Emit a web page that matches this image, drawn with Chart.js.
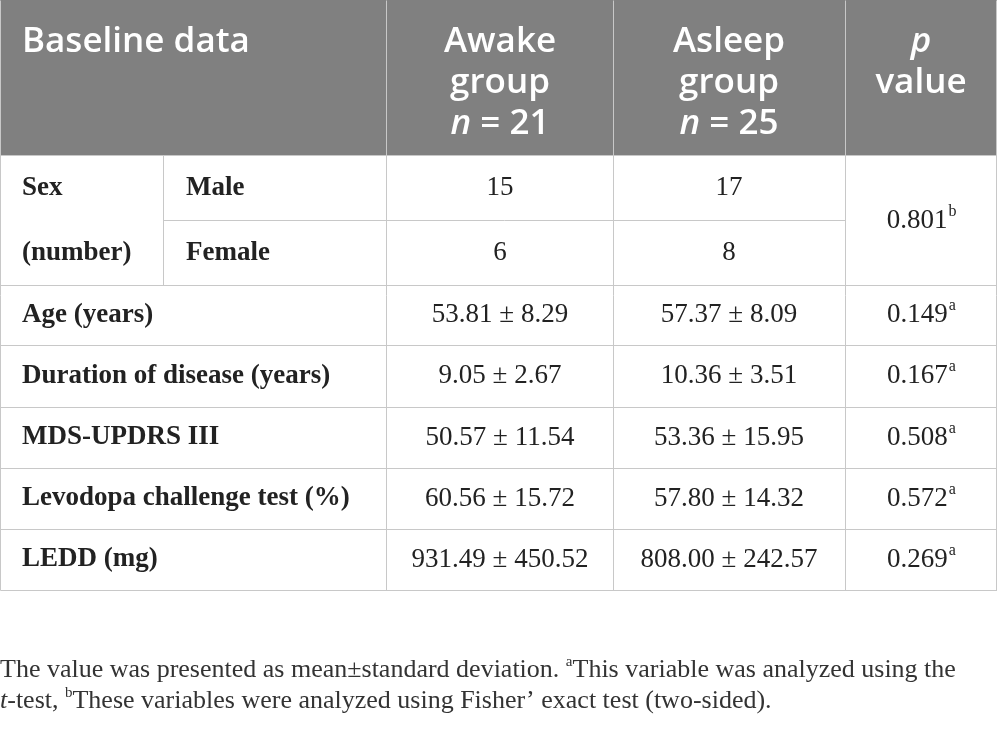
<!DOCTYPE html>
<html><head><meta charset="utf-8">
<script src="https://cdn.jsdelivr.net/npm/chart.js@4"></script>
<style>html,body{margin:0;padding:0;background:#fff}</style>
</head><body>
<canvas id="c" width="997" height="730"></canvas>
<script>
const headers = [["Baseline data"], ["Awake", "group", "n = 21"], ["Asleep", "group", "n = 25"], ["p", "value"]];
const rowLabels = ["Age (years)", "Duration of disease (years)", "MDS-UPDRS III", "Levodopa challenge test (%)", "LEDD (mg)"];
const awakeValues = ["53.81 ± 8.29", "9.05 ± 2.67", "50.57 ± 11.54", "60.56 ± 15.72", "931.49 ± 450.52"];
const asleepValues = ["57.37 ± 8.09", "10.36 ± 3.51", "53.36 ± 15.95", "57.80 ± 14.32", "808.00 ± 242.57"];
const pValues = ["0.149", "0.167", "0.508", "0.572", "0.269"];
const pMarks = ["a", "a", "a", "a", "a"];
const sexCategories = ["Male", "Female"];
const sexAwake = [15, 6];
const sexAsleep = [17, 8];
const sexP = "0.801", sexPMark = "b";

const X = [0, 163, 386, 613, 845, 997];
const rowY = [285, 345, 407, 468, 529, 590];
const serif = '"Liberation Serif", serif';
const HF = '600 35px "Open Sans", sans-serif', HFI = 'italic 600 35px "Open Sans", sans-serif';

const tablePlugin = {
  id: 'table',
  afterDraw(chart) {
    const c = chart.ctx;
    c.save();
    c.fillStyle = '#fff'; c.fillRect(0,0,997,730);
    c.fillStyle = '#808080'; c.fillRect(0,0,997,155);
    c.strokeStyle = '#c8c8c8'; c.lineWidth = 1;
    const line = (x1,y1,x2,y2)=>{c.beginPath();c.moveTo(x1+.5,y1+.5);c.lineTo(x2+.5,y2+.5);c.stroke();};
    line(0,155,997,155);
    line(163,220,845,220);
    rowY.forEach(y=>line(0,y,997,y));
    line(996,0,996,590); line(0,0,0,590);
    [386,613,845].forEach(x=>line(x,0,x,590));
    line(163,155,163,285);
    c.fillStyle = '#fff'; c.textBaseline = 'middle';
    c.font = HF;
    c.textAlign = 'left'; c.fillText(headers[0][0], 22, 42);
    c.textAlign = 'center';
    const hx = [null, 500, 729, 921];
    for (let i=1;i<4;i++) headers[i].forEach((t,j)=>{
      const y = 42 + j*41;
      if (t==='p') { c.font=HFI; c.fillText('p', hx[i], y); }
      else if (t.startsWith('n =')) {
        const rest = ' = ' + t.slice(4);
        c.font=HF; const wr = c.measureText(rest).width;
        c.font=HFI; const wn = c.measureText('n').width;
        const x0 = hx[i] - (wr+wn)/2;
        c.textAlign='left'; c.fillText('n', x0, y);
        c.font=HF; c.fillText(rest, x0+wn, y);
        c.textAlign='center';
      } else { c.font=HF; c.fillText(t, hx[i], y); }
    });
    c.fillStyle = '#222';
    const sup = (txt, mark, cx, y) => {
      c.font = '27px '+serif; const w = c.measureText(txt).width;
      c.font = '16px '+serif; const wm = c.measureText(mark).width;
      const x0 = cx - (w+wm)/2; c.textAlign='left';
      c.font = '27px '+serif; c.fillText(txt, x0, y);
      c.font = '16px '+serif; c.fillText(mark, x0+w+1, y-9);
      c.textAlign='center';
    };
    c.font = 'bold 27px '+serif; c.textAlign='left';
    c.fillText('Sex', 22, 188); c.fillText('(number)', 22, 253);
    sexCategories.forEach((s,i)=>c.fillText(s, 186, 188+i*65));
    c.textAlign='center'; c.font='27px '+serif;
    sexAwake.forEach((v,i)=>c.fillText(String(v), 500, 188+i*65));
    sexAsleep.forEach((v,i)=>c.fillText(String(v), 729, 188+i*65));
    sup(sexP, sexPMark, 921, 221);
    rowLabels.forEach((l,i)=>{
      const y = (rowY[i]+rowY[i+1])/2;
      c.font='bold 27px '+serif; c.textAlign='left'; c.fillText(l, 22, y);
      c.textAlign='center'; c.font='27px '+serif;
      c.fillText(awakeValues[i], 500, y); c.fillText(asleepValues[i], 729, y);
      sup(pValues[i], pMarks[i], 921, y);
    });
    c.fillStyle='#333'; c.textAlign='left';
    const FN='26px '+serif, FS='15px '+serif;
    c.font=FN;
    let s1='The value was presented as mean±standard deviation. ';
    c.fillText(s1, 0, 670); let x=c.measureText(s1).width;
    c.font=FS; c.fillText('a', x, 662); x+=c.measureText('a').width;
    c.font=FN; c.fillText('This variable was analyzed using the', x, 670);
    c.font='italic '+FN; c.fillText('t', 0, 701); x=c.measureText('t').width;
    c.font=FN; c.fillText('-test, ', x, 701); x+=c.measureText('-test, ').width;
    c.font=FS; c.fillText('b', x, 693); x+=c.measureText('b').width;
    c.font=FN; c.fillText('These variables were analyzed using Fisher\u2019 exact test (two-sided).', x, 701);
    c.restore();
  }
};

new Chart(document.getElementById('c'), {
  type: 'bar',
  data: { labels: rowLabels, datasets: [] },
  options: { responsive:false, animation:false, devicePixelRatio:1,
    plugins:{legend:{display:false},tooltip:{enabled:false}},
    scales:{x:{display:false},y:{display:false}} },
  plugins:[tablePlugin]
});
</script>
</body></html>
